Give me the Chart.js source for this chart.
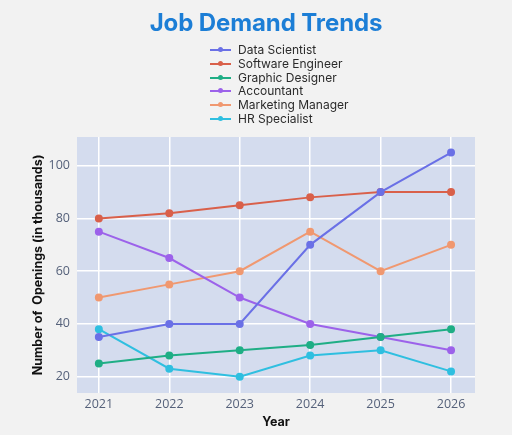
<!DOCTYPE html>
<html>
<head>
<meta charset="utf-8">
<script src="https://cdn.jsdelivr.net/npm/chart.js@4"></script>
<style>
    html, body { margin: 0; padding: 0; background: #f2f2f2; }
    #wrap { position: relative; width: 512px; height: 435px; overflow: hidden; }
    #myGraph { position: absolute; left: 0; top: 0; }
    #title {
        position: absolute; left: 10px; top: 8px; width: 512px; text-align: center;
        font-family: "Inter", "Noto Sans", sans-serif; font-weight: 700;
        font-size: 24px; color: #1c7ed6; letter-spacing: -0.1px;
    }
    #legend { position: absolute; left: 210px; top: 43px; list-style: none; margin: 0; padding: 0; }
    #legend li {
        height: 13.8px; line-height: 13.8px; font-family: "Inter", "Noto Sans", sans-serif;
        font-size: 12px; color: #2b2b2b; white-space: nowrap; position: relative; padding-left: 28px;
    }
    #legend .swatch { position: absolute; left: 0; top: 6px; width: 21px; height: 2px; }
    #legend .dot { position: absolute; left: 8px; top: -2px; width: 5px; height: 5px; border-radius: 50%; }
</style>
</head>
<body>
<div id="wrap">
    <canvas id="myGraph" width="512" height="435"></canvas>
    <div id="title">Job Demand Trends</div>
    <ul id="legend"></ul>
</div>
<script>
// Datos del gráfico
const years = [2021, 2022, 2023, 2024, 2025, 2026];
const jobNames = ["Data Scientist", "Software Engineer", "Graphic Designer", "Accountant", "Marketing Manager", "HR Specialist"];
const dataScientist = [35, 40, 40, 70, 90, 105];
const softwareEngineer = [80, 82, 85, 88, 90, 90];
const graphicDesigner = [25, 28, 30, 32, 35, 38];
const accountant = [75, 65, 50, 40, 35, 30];
const marketingManager = [50, 55, 60, 75, 60, 70];
const hrSpecialist = [38, 23, 20, 28, 30, 22];
const yTicks = [20, 40, 60, 80, 100];

const allSeries = [dataScientist, softwareEngineer, graphicDesigner, accountant, marketingManager, hrSpecialist];
const colors = ["#6a70e6", "#d9604a", "#1fae85", "#9c62ea", "#f09870", "#2fbfe0"];

// Fondo del área de dibujo
const plotBg = {
    id: "plotBg",
    beforeDraw: (chart) => {
        const { ctx, chartArea } = chart;
        ctx.save();
        ctx.fillStyle = "#d4dcee";
        ctx.fillRect(chartArea.left, chartArea.top, chartArea.right - chartArea.left, chartArea.bottom - chartArea.top);
        ctx.restore();
    },
};

const datasets = jobNames.map((name, i) => ({
    label: name,
    data: years.map((y, j) => ({ x: y, y: allSeries[i][j] })),
    borderColor: colors[i],
    backgroundColor: colors[i],
    borderWidth: 2,
    pointRadius: 3,
    pointHoverRadius: 3,
    tension: 0,
}));

const tickFont = { family: "'Open Sans', sans-serif", size: 12.5 };

const ctx = document.getElementById("myGraph").getContext("2d");
const myGraph = new Chart(ctx, {
    type: "line",
    data: { datasets: datasets },
    plugins: [plotBg],
    options: {
        responsive: false,
        animation: false,
        layout: { padding: { top: 137, right: 37, left: 0, bottom: 0 } },
        plugins: { legend: { display: false }, tooltip: { enabled: false } },
        scales: {
            x: {
                type: "linear",
                min: 2020.69,
                max: 2026.34,
                afterFit: (scale) => { scale.height = 42; },
                afterBuildTicks: (scale) => { scale.ticks = years.map((v) => ({ value: v })); },
                ticks: { font: tickFont, color: "#55617a", padding: 4, callback: (v) => String(v) },
                grid: { color: "#ffffff", lineWidth: 1.5, drawTicks: false },
                border: { display: false },
                title: {
                    display: true, text: "Year", color: "#111111",
                    font: { family: "'Inter', sans-serif", size: 12.5, weight: "bold" },
                    padding: { top: 0, bottom: 5 },
                },
            },
            y: {
                min: 13.8,
                max: 110.9,
                afterFit: (scale) => { scale.width = 77; },
                afterBuildTicks: (scale) => { scale.ticks = yTicks.map((v) => ({ value: v })); },
                ticks: { font: tickFont, color: "#55617a", padding: 7 },
                grid: { color: "#ffffff", lineWidth: 1.5, drawTicks: false },
                border: { display: false },
                title: {
                    display: true, text: "Number of  Openings (in thousands)", color: "#111111",
                    font: { family: "'Inter', sans-serif", size: 12.5, weight: "bold" },
                    padding: { top: 31, bottom: 0 },
                },
            },
        },
    },
});

// Leyenda en HTML
const legendList = document.getElementById("legend");
jobNames.forEach((name, i) => {
    const li = document.createElement("li");
    li.innerHTML = `<span class="swatch" style="background:${colors[i]}"><span class="dot" style="background:${colors[i]}"></span></span>${name}`;
    legendList.appendChild(li);
});
</script>
</body>
</html>
